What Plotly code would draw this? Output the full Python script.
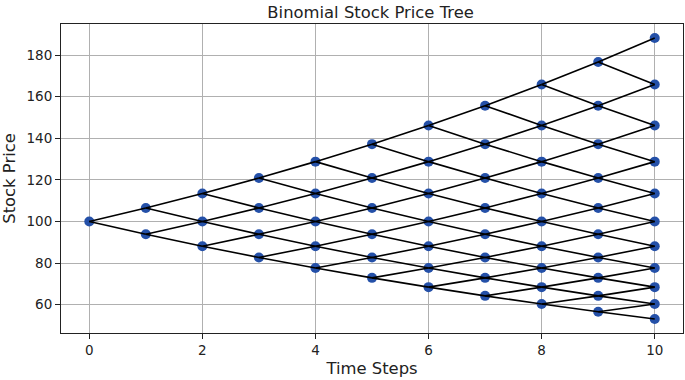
import plotly.graph_objects as go

# Stock prices at each time step, lowest to highest
steps = list(range(11))
prices = [
    [100.0],
    [93.87, 106.53],
    [88.12, 100.0, 113.49],
    [82.71, 93.87, 106.53, 120.90],
    [77.64, 88.12, 100.0, 113.49, 128.79],
    [72.88, 82.71, 93.87, 106.53, 120.90, 137.20],
    [68.42, 77.64, 88.12, 100.0, 113.49, 128.79, 146.16],
    [64.22, 72.88, 82.71, 93.87, 106.53, 120.90, 137.20, 155.71],
    [60.29, 68.42, 77.64, 88.12, 100.0, 113.49, 128.79, 146.16, 165.88],
    [56.59, 64.22, 72.88, 82.71, 93.87, 106.53, 120.90, 137.20, 155.71, 176.71],
    [53.12, 60.29, 68.42, 77.64, 88.12, 100.0, 113.49, 128.79, 146.16, 165.88, 188.25],
]
x_ticks = [0, 2, 4, 6, 8, 10]
y_ticks = [60, 80, 100, 120, 140, 160, 180]

# edges of the tree
ex, ey = [], []
for i in steps[:-1]:
    for j, p in enumerate(prices[i]):
        for k in (j, j + 1):
            ex += [i, i + 1, None]
            ey += [p, prices[i + 1][k], None]

nx, ny = [], []
for i in steps:
    for p in prices[i]:
        nx.append(i)
        ny.append(p)

fig = go.Figure()
fig.add_trace(go.Scatter(x=nx, y=ny, mode="markers",
                         marker=dict(color="#2450a8", size=10, line=dict(width=0)),
                         hoverinfo="skip", showlegend=False))
fig.add_trace(go.Scatter(x=ex, y=ey, mode="lines",
                         line=dict(color="black", width=1.6),
                         hoverinfo="skip", showlegend=False))

axis_common = dict(showgrid=True, gridcolor="#b0b0b0", gridwidth=1,
                   showline=True, linecolor="#222", linewidth=1, mirror=True,
                   ticks="outside", ticklen=5, tickcolor="#222",
                   tickfont=dict(family="DejaVu Sans", size=13.5, color="#222"),
                   zeroline=False)

fig.update_layout(
    width=685, height=380,
    margin=dict(l=61, r=2, t=24, b=47),
    paper_bgcolor="white", plot_bgcolor="white",
    title=dict(text="Binomial Stock Price Tree", x=0.541, xanchor="center",
               y=1 - 12 / 380, yanchor="middle",
               font=dict(family="DejaVu Sans", size=16.4, color="#222")),
    xaxis=dict(range=[-0.5, 10.5], tickvals=x_ticks,
               title=dict(text="Time Steps", standoff=5,
                          font=dict(family="DejaVu Sans", size=16.4, color="#222")),
               **axis_common),
    yaxis=dict(range=[46.36, 195.0], tickvals=y_ticks,
               title=dict(text="Stock Price", standoff=7,
                          font=dict(family="DejaVu Sans", size=16.4, color="#222")),
               **axis_common),
)

fig.write_html("out.html")
